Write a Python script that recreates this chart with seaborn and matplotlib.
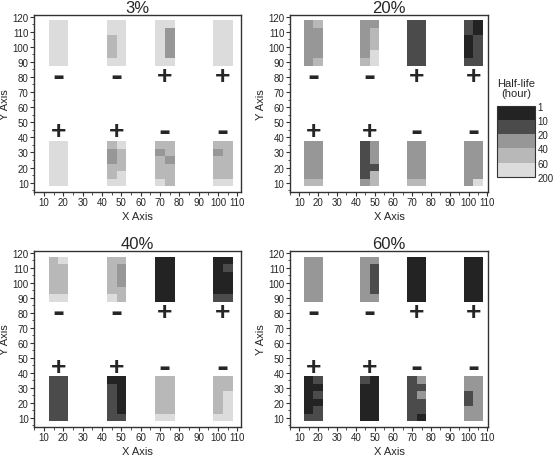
import numpy as np
import pandas as pd
import seaborn as sns
import matplotlib.pyplot as plt
from matplotlib.colors import ListedColormap
from matplotlib.ticker import MultipleLocator

# half-life classes: 1 = 1-10 h (darkest) ... 5 = 60-200 h (lightest)
class_colors = ["#232323", "#4b4b4b", "#979797", "#b8b8b8", "#dcdcdc"]
class_labels = ["1", "10", "20", "40", "60", "200"]

panel_titles = ["3%", "20%", "40%", "60%"]
block_x = [15, 45, 70, 100]              # centre of left column of each block
top_rows = [115, 110, 105, 100, 95, 90]
bottom_rows = [35, 30, 25, 20, 15, 10]
top_signs = ["-", "-", "+", "+"]
bottom_signs = ["+", "+", "-", "-"]
sign_x = [17.5, 47.5, 72.5, 102.5]
top_sign_y = 80.5
bottom_sign_y = 44

# each block: 6 rows (top to bottom), each row "left right" class
cells_3_top = [
    ["55", "55", "55", "55", "55", "55"],
    ["55", "55", "45", "45", "45", "55"],
    ["55", "53", "53", "53", "53", "55"],
    ["55", "55", "55", "55", "55", "55"],
]
cells_3_bottom = [
    ["55", "55", "55", "55", "55", "55"],
    ["45", "34", "34", "44", "45", "55"],
    ["44", "34", "43", "44", "44", "54"],
    ["44", "34", "44", "44", "44", "55"],
]
cells_20_top = [
    ["34", "33", "33", "33", "33", "34"],
    ["33", "34", "34", "34", "35", "45"],
    ["22", "22", "22", "22", "22", "22"],
    ["21", "21", "12", "12", "12", "22"],
]
cells_20_bottom = [
    ["33", "33", "33", "33", "33", "44"],
    ["23", "23", "23", "22", "24", "34"],
    ["33", "33", "33", "33", "33", "44"],
    ["33", "33", "33", "33", "33", "35"],
]
cells_40_top = [
    ["45", "44", "44", "44", "44", "55"],
    ["44", "43", "43", "43", "44", "54"],
    ["11", "11", "11", "11", "11", "11"],
    ["11", "12", "11", "11", "11", "22"],
]
cells_40_bottom = [
    ["22", "22", "22", "22", "22", "22"],
    ["11", "21", "21", "21", "21", "22"],
    ["44", "44", "44", "44", "44", "55"],
    ["44", "44", "45", "45", "45", "55"],
]
cells_60_top = [
    ["33", "33", "33", "33", "33", "33"],
    ["33", "32", "32", "32", "32", "33"],
    ["11", "11", "11", "11", "11", "11"],
    ["11", "11", "11", "11", "11", "11"],
]
cells_60_bottom = [
    ["12", "11", "12", "11", "12", "22"],
    ["21", "11", "11", "11", "11", "11"],
    ["23", "22", "23", "22", "22", "21"],
    ["33", "33", "23", "23", "33", "33"],
]
panel_cells = [
    (cells_3_top, cells_3_bottom),
    (cells_20_top, cells_20_bottom),
    (cells_40_top, cells_40_bottom),
    (cells_60_top, cells_60_bottom),
]


def cells_to_frame(top, bottom):
    recs = []
    for blocks, rows in ((top, top_rows), (bottom, bottom_rows)):
        for bx, block in zip(block_x, blocks):
            for y, row in zip(rows, block):
                recs.append((bx, y, int(row[0])))
                recs.append((bx + 5, y, int(row[1])))
    return pd.DataFrame(recs, columns=["x", "y", "cls"])


def draw_sign(ax, x, y, s):
    if s == "+":
        ax.text(x, y, "+", ha="center", va="center", fontsize=19,
                fontweight="bold")
    else:
        ax.text(x, y, "-", ha="center", va="center", fontsize=21,
                fontweight="bold", family="DejaVu Sans")


sns.set_style("ticks")
plt.rcParams["font.family"] = ["Liberation Sans", "DejaVu Sans"]

cmap = ListedColormap(class_colors)
x_edges = np.arange(12.5, 110, 5)
y_edges = np.arange(7.5, 120, 5)

fig = plt.figure(figsize=(5.53, 4.56), dpi=100)
boxes = [
    [0.0620, 0.5774, 0.3743, 0.3875],
    [0.5244, 0.5774, 0.3586, 0.3875],
    [0.0620, 0.0621, 0.3743, 0.3846],
    [0.5244, 0.0621, 0.3586, 0.3846],
]
xlims = [(5, 112), (5, 110.5), (5, 112), (5, 110.5)]

mesh = None
for i, (title, (top, bottom)) in enumerate(zip(panel_titles, panel_cells)):
    ax = fig.add_axes(boxes[i])
    df = cells_to_frame(top, bottom)
    sns.histplot(data=df, x="x", y="y", weights="cls", bins=(x_edges, y_edges),
                 cmap=cmap, vmin=0.5, vmax=5.5, ax=ax)
    mesh = ax.collections[0]

    for sx, s in zip(sign_x, top_signs):
        draw_sign(ax, sx, top_sign_y, s)
    for sx, s in zip(sign_x, bottom_signs):
        draw_sign(ax, sx, bottom_sign_y, s)

    ax.set_xlim(*xlims[i])
    ax.set_ylim(4, 121)
    ax.xaxis.set_minor_locator(MultipleLocator(5))
    ax.yaxis.set_minor_locator(MultipleLocator(5))
    ax.set_xticks(np.arange(10, 111, 10))
    ax.set_yticks(np.arange(10, 121, 10))
    ax.tick_params(which="major", length=3, width=0.8, pad=1, labelsize=7,
                   direction="out", color="#333333")
    ax.tick_params(which="minor", length=1.8, width=0.6, direction="out",
                   color="#333333")
    for sp in ax.spines.values():
        sp.set_visible(True)
        sp.set_linewidth(1.0)
        sp.set_color("#333333")
    ax.set_xlabel("X Axis", fontsize=8, labelpad=3)
    ax.set_ylabel("Y Axis", fontsize=8, labelpad=2)
    ax.set_title(title, fontsize=12, pad=1.5)

# legend colour bar
cax = fig.add_axes([0.8987, 0.6096, 0.0687, 0.1564])
cbar = fig.colorbar(mesh, cax=cax, drawedges=True)
cbar.set_ticks(np.arange(0.5, 6, 1))
cbar.set_ticklabels(class_labels)
cax.invert_yaxis()
cax.tick_params(length=0, pad=2, labelsize=7)
cbar.outline.set_linewidth(0.8)
cbar.outline.set_edgecolor("#333333")
cbar.dividers.set_color("#555555")
cbar.dividers.set_linewidth(0.5)
fig.text(0.934, 0.805, "Half-life\n(hour)", ha="center", va="center",
         fontsize=8, linespacing=1.1)

fig.savefig("out.png", dpi=100)
